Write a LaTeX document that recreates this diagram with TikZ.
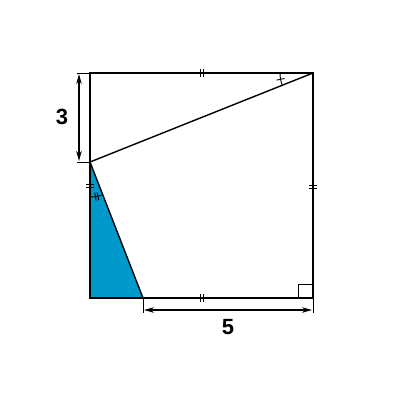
\documentclass[tikz,border=0pt]{standalone}
\usepackage{fontspec}
\setmainfont{Liberation Sans}
\usetikzlibrary{arrows.meta,calc}
\definecolor{fillblue}{RGB}{0,153,204}
\tikzset{
  edge/.style={line width=1.4pt, black},
  thin/.style={line width=0.9pt, black},
  dimarrow/.style={line width=1.4pt, {Stealth[length=10pt,width=5.5pt]}-{Stealth[length=10pt,width=5.5pt]}},
  dimlabel/.style={font=\bfseries\fontsize{22}{22}\selectfont, inner sep=0pt}
}
\begin{document}
\begin{tikzpicture}[x=1pt,y=-1pt]
\useasboundingbox (0,0) rectangle (400,400);
\coordinate (A) at (90,73);
\coordinate (B) at (313,73);
\coordinate (C) at (313,298);
\coordinate (D) at (90,298);
\coordinate (P) at (90,162);
\coordinate (Q) at (143,298);
% blue triangle
\fill[fillblue] (P) -- (D) -- (Q) -- cycle;
% square and inner lines
\draw[edge] (A) -- (B) -- (C) -- (D) -- cycle;
\draw[edge] (P) -- (B);
\draw[edge] (P) -- (Q);
% right angle
\draw[thin] (298,298) -- (298,284) -- (313,284);
% equal ticks
\draw[thin] (200.5,69) -- (200.5,77) (203.5,69) -- (203.5,77);
\draw[thin] (200.5,294) -- (200.5,302) (203.5,294) -- (203.5,302);
\draw[thin] (309,185.5) -- (317,185.5) (309,188.5) -- (317,188.5);
\draw[thin] (86,184.5) -- (94,184.5) (86,187.5) -- (94,187.5);
% angle marks
\draw[thin] (B) ++(180:33) arc[start angle=180, end angle=158.24, radius=33];
\draw[thin] ($(B)+(169:29)$) -- ($(B)+(169:37)$);
\draw[thin] (P) ++(90:35) arc[start angle=90, end angle=68.7, radius=35];
\draw[thin] ($(P)+(81:31)$) -- ($(P)+(81:39)$);
\draw[thin] ($(P)+(77:31)$) -- ($(P)+(77:39)$);
% dimension 3
\coordinate (e1) at (77,73);
\coordinate (e2) at (77,162);
\draw[thin] (A) -- (e1);
\draw[thin] (P) -- (e2);
\coordinate (d1) at (79,74);
\coordinate (d2) at (79,161);
\draw[dimarrow] (d1) -- (d2);
\node[dimlabel] (three) at (62,117) {3};
% dimension 5
\coordinate (f1) at (143,313);
\coordinate (f2) at (313,313);
\draw[thin] (Q) -- (f1);
\draw[thin] (C) -- (f2);
\coordinate (g1) at (144,310);
\coordinate (g2) at (312,310);
\draw[dimarrow] (g1) -- (g2);
\node[dimlabel] (five) at (228,327) {5};
\end{tikzpicture}
\end{document}
